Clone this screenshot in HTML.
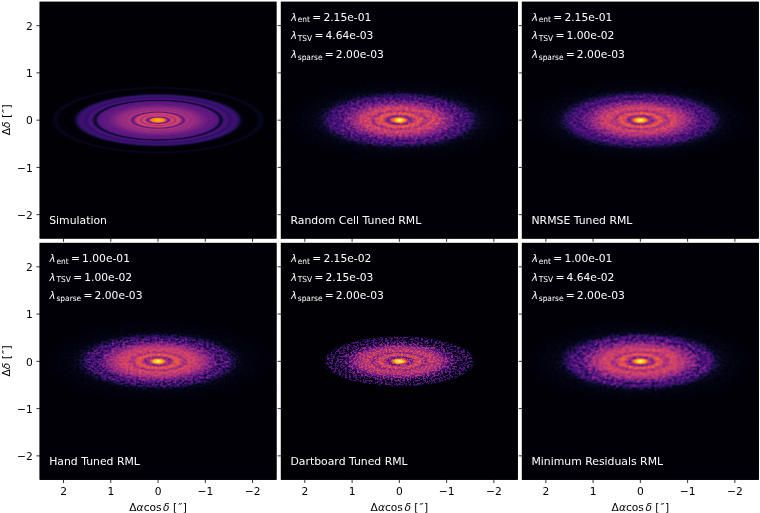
<!DOCTYPE html>
<html lang="en"><head><meta charset="utf-8"><title>RML image comparison</title>
<style>
html,body{margin:0;padding:0;background:#fff;}
body{width:760px;height:513px;overflow:hidden;}
svg{display:block;}
text{font-family:"DejaVu Sans", "Liberation Sans", sans-serif;font-size:10.7px;}
.tk{fill:#000;}
.w{fill:#fff;}
.it{font-style:italic;}
.tt{font-size:10.85px;}
.lam{font-size:10.06px;}
.sub{font-size:7.49px;}
</style></head>
<body>
<svg width="760" height="513" viewBox="0 0 760 513">
<defs><radialGradient id="gsim" gradientUnits="userSpaceOnUse" cx="0" cy="0" r="120.0" gradientTransform="scale(1 0.314)"><stop offset="0.0000" stop-color="#d6d6d6"/><stop offset="0.0167" stop-color="#d1d1d1"/><stop offset="0.0375" stop-color="#c7c7c7"/><stop offset="0.0583" stop-color="#b2b2b2"/><stop offset="0.0708" stop-color="#808080"/><stop offset="0.0858" stop-color="#454545"/><stop offset="0.1000" stop-color="#737373"/><stop offset="0.1192" stop-color="#999999"/><stop offset="0.1333" stop-color="#858585"/><stop offset="0.1433" stop-color="#707070"/><stop offset="0.1558" stop-color="#8a8a8a"/><stop offset="0.1667" stop-color="#959595"/><stop offset="0.1833" stop-color="#8a8a8a"/><stop offset="0.2000" stop-color="#616161"/><stop offset="0.2125" stop-color="#474747"/><stop offset="0.2292" stop-color="#666666"/><stop offset="0.2450" stop-color="#7e7e7e"/><stop offset="0.2583" stop-color="#707070"/><stop offset="0.2700" stop-color="#696969"/><stop offset="0.2917" stop-color="#717171"/><stop offset="0.3083" stop-color="#696969"/><stop offset="0.3208" stop-color="#6c6c6c"/><stop offset="0.3333" stop-color="#636363"/><stop offset="0.3500" stop-color="#616161"/><stop offset="0.3667" stop-color="#585858"/><stop offset="0.3833" stop-color="#575757"/><stop offset="0.4000" stop-color="#505050"/><stop offset="0.4167" stop-color="#4f4f4f"/><stop offset="0.4267" stop-color="#464646"/><stop offset="0.4375" stop-color="#4c4c4c"/><stop offset="0.4500" stop-color="#4b4b4b"/><stop offset="0.4667" stop-color="#474747"/><stop offset="0.4833" stop-color="#464646"/><stop offset="0.5025" stop-color="#414141"/><stop offset="0.5125" stop-color="#1f1f1f"/><stop offset="0.5250" stop-color="#141414"/><stop offset="0.5392" stop-color="#1c1c1c"/><stop offset="0.5500" stop-color="#373737"/><stop offset="0.5667" stop-color="#3d3d3d"/><stop offset="0.5833" stop-color="#363636"/><stop offset="0.5958" stop-color="#2e2e2e"/><stop offset="0.6083" stop-color="#2b2b2b"/><stop offset="0.6250" stop-color="#343434"/><stop offset="0.6417" stop-color="#363636"/><stop offset="0.6625" stop-color="#2f2f2f"/><stop offset="0.6833" stop-color="#1a1a1a"/><stop offset="0.7083" stop-color="#060606"/><stop offset="0.7500" stop-color="#030303"/><stop offset="0.8167" stop-color="#020202"/><stop offset="0.8375" stop-color="#090909"/><stop offset="0.8583" stop-color="#0f0f0f"/><stop offset="0.8792" stop-color="#080808"/><stop offset="0.9000" stop-color="#010101"/><stop offset="1.0000" stop-color="#010101"/></radialGradient><radialGradient id="gcore" gradientUnits="userSpaceOnUse" cx="0" cy="0" r="8.3" gradientTransform="scale(1 0.43)"><stop offset="0" stop-color="#f8f8f8"/><stop offset="0.3" stop-color="#e8e8e8" stop-opacity="0.95"/><stop offset="0.6" stop-color="#cfcfcf" stop-opacity="0.8"/><stop offset="0.8" stop-color="#b0b0b0" stop-opacity="0.4"/><stop offset="1" stop-color="#a0a0a0" stop-opacity="0"/></radialGradient><radialGradient id="gp1" gradientUnits="userSpaceOnUse" cx="0" cy="0" r="120.0" gradientTransform="scale(1 0.345)"><stop offset="0.0000" stop-color="#f7f7f7"/><stop offset="0.0125" stop-color="#f2f2f2"/><stop offset="0.0250" stop-color="#e6e6e6"/><stop offset="0.0417" stop-color="#cccccc"/><stop offset="0.0542" stop-color="#adadad"/><stop offset="0.0642" stop-color="#8f8f8f"/><stop offset="0.0750" stop-color="#757575"/><stop offset="0.0875" stop-color="#666666"/><stop offset="0.1017" stop-color="#5e5e5e"/><stop offset="0.1167" stop-color="#737373"/><stop offset="0.1333" stop-color="#8f8f8f"/><stop offset="0.1500" stop-color="#9d9d9d"/><stop offset="0.1667" stop-color="#9f9f9f"/><stop offset="0.1833" stop-color="#949494"/><stop offset="0.2000" stop-color="#808080"/><stop offset="0.2167" stop-color="#757575"/><stop offset="0.2333" stop-color="#7d7d7d"/><stop offset="0.2500" stop-color="#8b8b8b"/><stop offset="0.2733" stop-color="#909090"/><stop offset="0.2967" stop-color="#8c8c8c"/><stop offset="0.3247" stop-color="#858585"/><stop offset="0.3527" stop-color="#747474"/><stop offset="0.3807" stop-color="#6b6b6b"/><stop offset="0.4087" stop-color="#5f5f5f"/><stop offset="0.4367" stop-color="#535353"/><stop offset="0.4647" stop-color="#4b4b4b"/><stop offset="0.5000" stop-color="#3b3b3b"/><stop offset="0.5167" stop-color="#393939"/><stop offset="0.5333" stop-color="#393939"/><stop offset="0.5542" stop-color="#373737"/><stop offset="0.5708" stop-color="#353535"/><stop offset="0.5958" stop-color="#2e2e2e"/><stop offset="0.6208" stop-color="#212121"/><stop offset="0.6458" stop-color="#151515"/><stop offset="0.6792" stop-color="#0e0e0e"/><stop offset="0.7375" stop-color="#080808"/><stop offset="0.8750" stop-color="#040404"/><stop offset="1.0000" stop-color="#020202"/></radialGradient><radialGradient id="gp2" gradientUnits="userSpaceOnUse" cx="0" cy="0" r="120.0" gradientTransform="scale(1 0.35)"><stop offset="0.0000" stop-color="#f7f7f7"/><stop offset="0.0125" stop-color="#f2f2f2"/><stop offset="0.0250" stop-color="#e6e6e6"/><stop offset="0.0417" stop-color="#cccccc"/><stop offset="0.0542" stop-color="#adadad"/><stop offset="0.0642" stop-color="#8f8f8f"/><stop offset="0.0750" stop-color="#757575"/><stop offset="0.0875" stop-color="#666666"/><stop offset="0.1017" stop-color="#5e5e5e"/><stop offset="0.1167" stop-color="#737373"/><stop offset="0.1333" stop-color="#8f8f8f"/><stop offset="0.1500" stop-color="#9d9d9d"/><stop offset="0.1667" stop-color="#9f9f9f"/><stop offset="0.1833" stop-color="#949494"/><stop offset="0.2000" stop-color="#808080"/><stop offset="0.2167" stop-color="#757575"/><stop offset="0.2333" stop-color="#7d7d7d"/><stop offset="0.2500" stop-color="#8b8b8b"/><stop offset="0.2735" stop-color="#909090"/><stop offset="0.2971" stop-color="#8c8c8c"/><stop offset="0.3253" stop-color="#858585"/><stop offset="0.3536" stop-color="#787878"/><stop offset="0.3818" stop-color="#6e6e6e"/><stop offset="0.4101" stop-color="#626262"/><stop offset="0.4383" stop-color="#565656"/><stop offset="0.4666" stop-color="#4d4d4d"/><stop offset="0.5000" stop-color="#3d3d3d"/><stop offset="0.5167" stop-color="#383838"/><stop offset="0.5333" stop-color="#3a3a3a"/><stop offset="0.5542" stop-color="#3a3a3a"/><stop offset="0.5750" stop-color="#383838"/><stop offset="0.6000" stop-color="#313131"/><stop offset="0.6250" stop-color="#222222"/><stop offset="0.6500" stop-color="#181818"/><stop offset="0.6833" stop-color="#0e0e0e"/><stop offset="0.7417" stop-color="#080808"/><stop offset="0.8750" stop-color="#040404"/><stop offset="1.0000" stop-color="#020202"/></radialGradient><radialGradient id="gp3" gradientUnits="userSpaceOnUse" cx="0" cy="0" r="120.0" gradientTransform="scale(1 0.345)"><stop offset="0.0000" stop-color="#f7f7f7"/><stop offset="0.0125" stop-color="#f2f2f2"/><stop offset="0.0250" stop-color="#e6e6e6"/><stop offset="0.0417" stop-color="#cccccc"/><stop offset="0.0542" stop-color="#adadad"/><stop offset="0.0642" stop-color="#8f8f8f"/><stop offset="0.0750" stop-color="#757575"/><stop offset="0.0875" stop-color="#666666"/><stop offset="0.1017" stop-color="#5e5e5e"/><stop offset="0.1167" stop-color="#737373"/><stop offset="0.1333" stop-color="#8f8f8f"/><stop offset="0.1500" stop-color="#9d9d9d"/><stop offset="0.1667" stop-color="#9f9f9f"/><stop offset="0.1833" stop-color="#949494"/><stop offset="0.2000" stop-color="#808080"/><stop offset="0.2167" stop-color="#757575"/><stop offset="0.2333" stop-color="#7d7d7d"/><stop offset="0.2500" stop-color="#8b8b8b"/><stop offset="0.2733" stop-color="#909090"/><stop offset="0.2967" stop-color="#8c8c8c"/><stop offset="0.3247" stop-color="#858585"/><stop offset="0.3527" stop-color="#7d7d7d"/><stop offset="0.3807" stop-color="#737373"/><stop offset="0.4087" stop-color="#666666"/><stop offset="0.4367" stop-color="#595959"/><stop offset="0.4647" stop-color="#505050"/><stop offset="0.5000" stop-color="#3a3a3a"/><stop offset="0.5167" stop-color="#323232"/><stop offset="0.5333" stop-color="#373737"/><stop offset="0.5542" stop-color="#393939"/><stop offset="0.5667" stop-color="#373737"/><stop offset="0.5917" stop-color="#303030"/><stop offset="0.6167" stop-color="#222222"/><stop offset="0.6417" stop-color="#161616"/><stop offset="0.6750" stop-color="#0d0d0d"/><stop offset="0.7333" stop-color="#070707"/><stop offset="0.8750" stop-color="#040404"/><stop offset="1.0000" stop-color="#020202"/></radialGradient><radialGradient id="gp4" gradientUnits="userSpaceOnUse" cx="0" cy="0" r="120.0" gradientTransform="scale(1 0.335)"><stop offset="0.0000" stop-color="#f7f7f7"/><stop offset="0.0125" stop-color="#f2f2f2"/><stop offset="0.0250" stop-color="#e6e6e6"/><stop offset="0.0417" stop-color="#cccccc"/><stop offset="0.0542" stop-color="#adadad"/><stop offset="0.0642" stop-color="#8f8f8f"/><stop offset="0.0750" stop-color="#757575"/><stop offset="0.0875" stop-color="#666666"/><stop offset="0.1017" stop-color="#5a5a5a"/><stop offset="0.1167" stop-color="#6d6d6d"/><stop offset="0.1333" stop-color="#888888"/><stop offset="0.1500" stop-color="#959595"/><stop offset="0.1667" stop-color="#979797"/><stop offset="0.1833" stop-color="#8d8d8d"/><stop offset="0.2000" stop-color="#797979"/><stop offset="0.2167" stop-color="#6f6f6f"/><stop offset="0.2333" stop-color="#777777"/><stop offset="0.2500" stop-color="#848484"/><stop offset="0.2708" stop-color="#898989"/><stop offset="0.2917" stop-color="#858585"/><stop offset="0.3167" stop-color="#7e7e7e"/><stop offset="0.3417" stop-color="#777777"/><stop offset="0.3667" stop-color="#6d6d6d"/><stop offset="0.3917" stop-color="#616161"/><stop offset="0.4167" stop-color="#4f4f4f"/><stop offset="0.4500" stop-color="#404040"/><stop offset="0.4833" stop-color="#333333"/><stop offset="0.5083" stop-color="#262626"/><stop offset="0.5250" stop-color="#242424"/><stop offset="0.5500" stop-color="#292929"/><stop offset="0.5833" stop-color="#282828"/><stop offset="0.6042" stop-color="#242424"/><stop offset="0.6208" stop-color="#0f0f0f"/><stop offset="0.6375" stop-color="#030303"/><stop offset="0.6667" stop-color="#000000"/><stop offset="1.0000" stop-color="#000000"/></radialGradient><radialGradient id="gp5" gradientUnits="userSpaceOnUse" cx="0" cy="0" r="120.0" gradientTransform="scale(1 0.355)"><stop offset="0.0000" stop-color="#f7f7f7"/><stop offset="0.0125" stop-color="#f2f2f2"/><stop offset="0.0250" stop-color="#e6e6e6"/><stop offset="0.0417" stop-color="#cccccc"/><stop offset="0.0542" stop-color="#adadad"/><stop offset="0.0642" stop-color="#8f8f8f"/><stop offset="0.0750" stop-color="#757575"/><stop offset="0.0875" stop-color="#666666"/><stop offset="0.1017" stop-color="#5e5e5e"/><stop offset="0.1167" stop-color="#737373"/><stop offset="0.1333" stop-color="#8f8f8f"/><stop offset="0.1500" stop-color="#9d9d9d"/><stop offset="0.1667" stop-color="#9f9f9f"/><stop offset="0.1833" stop-color="#949494"/><stop offset="0.2000" stop-color="#808080"/><stop offset="0.2167" stop-color="#757575"/><stop offset="0.2333" stop-color="#7d7d7d"/><stop offset="0.2500" stop-color="#8b8b8b"/><stop offset="0.2740" stop-color="#909090"/><stop offset="0.2979" stop-color="#8c8c8c"/><stop offset="0.3267" stop-color="#858585"/><stop offset="0.3554" stop-color="#7d7d7d"/><stop offset="0.3842" stop-color="#737373"/><stop offset="0.4129" stop-color="#666666"/><stop offset="0.4417" stop-color="#595959"/><stop offset="0.4704" stop-color="#505050"/><stop offset="0.5000" stop-color="#404040"/><stop offset="0.5167" stop-color="#393939"/><stop offset="0.5333" stop-color="#3d3d3d"/><stop offset="0.5542" stop-color="#3e3e3e"/><stop offset="0.5667" stop-color="#3c3c3c"/><stop offset="0.5917" stop-color="#343434"/><stop offset="0.6167" stop-color="#252525"/><stop offset="0.6417" stop-color="#181818"/><stop offset="0.6750" stop-color="#0e0e0e"/><stop offset="0.7333" stop-color="#080808"/><stop offset="0.8750" stop-color="#040404"/><stop offset="1.0000" stop-color="#020202"/></radialGradient><filter id="n0" x="0" y="0" width="100%" height="100%" color-interpolation-filters="sRGB"><feComponentTransfer><feFuncR type="table" tableValues="0.001 0.008 0.019 0.036 0.057 0.079 0.103 0.129 0.159 0.191 0.225 0.259 0.291 0.323 0.354 0.384 0.415 0.445 0.476 0.507 0.538 0.569 0.601 0.633 0.665 0.697 0.730 0.762 0.794 0.824 0.852 0.877 0.899 0.918 0.933 0.947 0.958 0.968 0.976 0.982 0.986 0.988 0.987 0.985 0.980 0.973 0.964 0.955 0.948 0.948 0.962 0.988"/><feFuncG type="table" tableValues="0.000 0.006 0.016 0.028 0.042 0.054 0.063 0.068 0.068 0.065 0.060 0.060 0.065 0.074 0.085 0.098 0.110 0.123 0.135 0.146 0.157 0.167 0.178 0.188 0.198 0.208 0.220 0.232 0.246 0.264 0.285 0.310 0.338 0.369 0.403 0.437 0.473 0.508 0.544 0.579 0.616 0.653 0.690 0.728 0.767 0.805 0.844 0.882 0.917 0.949 0.976 0.998"/><feFuncB type="table" tableValues="0.014 0.045 0.085 0.125 0.167 0.212 0.258 0.305 0.353 0.396 0.432 0.458 0.475 0.487 0.496 0.501 0.505 0.507 0.508 0.508 0.507 0.504 0.500 0.495 0.489 0.480 0.467 0.447 0.422 0.393 0.359 0.322 0.283 0.243 0.202 0.161 0.121 0.081 0.046 0.026 0.026 0.046 0.080 0.121 0.166 0.217 0.273 0.337 0.411 0.491 0.572 0.645"/></feComponentTransfer></filter><filter id="n1" x="0" y="0" width="100%" height="100%" color-interpolation-filters="sRGB"><feComponentTransfer in="SourceGraphic" result="amp"><feFuncR type="table" tableValues="0.000 0.037 0.075 0.115 0.157 0.197 0.231 0.266 0.300 0.314 0.329 0.338 0.329 0.319 0.310 0.300 0.290 0.280 0.270 0.262 0.253 0.245 0.237 0.228 0.220 0.205 0.190 0.175 0.160 0.145 0.130 0.118 0.107 0.095 0.083 0.072 0.060 0.052 0.045 0.037 0.030"/><feFuncG type="table" tableValues="0.000 0.037 0.075 0.115 0.157 0.197 0.231 0.266 0.300 0.314 0.329 0.338 0.329 0.319 0.310 0.300 0.290 0.280 0.270 0.262 0.253 0.245 0.237 0.228 0.220 0.205 0.190 0.175 0.160 0.145 0.130 0.118 0.107 0.095 0.083 0.072 0.060 0.052 0.045 0.037 0.030"/><feFuncB type="table" tableValues="0.000 0.037 0.075 0.115 0.157 0.197 0.231 0.266 0.300 0.314 0.329 0.338 0.329 0.319 0.310 0.300 0.290 0.280 0.270 0.262 0.253 0.245 0.237 0.228 0.220 0.205 0.190 0.175 0.160 0.145 0.130 0.118 0.107 0.095 0.083 0.072 0.060 0.052 0.045 0.037 0.030"/></feComponentTransfer><feTurbulence type="fractalNoise" baseFrequency="0.33 0.41" numOctaves="2" seed="3" result="n"/><feColorMatrix in="n" type="matrix" values="1 0 0 0 0  1 0 0 0 0  1 0 0 0 0  0 0 0 0 1" result="g0"/><feGaussianBlur in="g0" stdDeviation="0.5" result="g"/><feComposite in="amp" in2="g" operator="arithmetic" k1="1.35" k2="-0.675" k3="0" k4="0.5" result="t"/><feComposite in="SourceGraphic" in2="t" operator="arithmetic" k1="0" k2="1" k3="1" k4="-0.5"/><feComponentTransfer><feFuncR type="table" tableValues="0.001 0.008 0.019 0.036 0.057 0.079 0.103 0.129 0.159 0.191 0.225 0.259 0.291 0.323 0.354 0.384 0.415 0.445 0.476 0.507 0.538 0.569 0.601 0.633 0.665 0.697 0.730 0.762 0.794 0.824 0.852 0.877 0.899 0.918 0.933 0.947 0.958 0.968 0.976 0.982 0.986 0.988 0.987 0.985 0.980 0.973 0.964 0.955 0.948 0.948 0.962 0.988"/><feFuncG type="table" tableValues="0.000 0.006 0.016 0.028 0.042 0.054 0.063 0.068 0.068 0.065 0.060 0.060 0.065 0.074 0.085 0.098 0.110 0.123 0.135 0.146 0.157 0.167 0.178 0.188 0.198 0.208 0.220 0.232 0.246 0.264 0.285 0.310 0.338 0.369 0.403 0.437 0.473 0.508 0.544 0.579 0.616 0.653 0.690 0.728 0.767 0.805 0.844 0.882 0.917 0.949 0.976 0.998"/><feFuncB type="table" tableValues="0.014 0.045 0.085 0.125 0.167 0.212 0.258 0.305 0.353 0.396 0.432 0.458 0.475 0.487 0.496 0.501 0.505 0.507 0.508 0.508 0.507 0.504 0.500 0.495 0.489 0.480 0.467 0.447 0.422 0.393 0.359 0.322 0.283 0.243 0.202 0.161 0.121 0.081 0.046 0.026 0.026 0.046 0.080 0.121 0.166 0.217 0.273 0.337 0.411 0.491 0.572 0.645"/></feComponentTransfer></filter><filter id="n2" x="0" y="0" width="100%" height="100%" color-interpolation-filters="sRGB"><feComponentTransfer in="SourceGraphic" result="amp"><feFuncR type="table" tableValues="0.000 0.037 0.075 0.115 0.157 0.197 0.231 0.266 0.300 0.314 0.329 0.338 0.329 0.319 0.310 0.300 0.290 0.280 0.270 0.262 0.253 0.245 0.237 0.228 0.220 0.205 0.190 0.175 0.160 0.145 0.130 0.118 0.107 0.095 0.083 0.072 0.060 0.052 0.045 0.037 0.030"/><feFuncG type="table" tableValues="0.000 0.037 0.075 0.115 0.157 0.197 0.231 0.266 0.300 0.314 0.329 0.338 0.329 0.319 0.310 0.300 0.290 0.280 0.270 0.262 0.253 0.245 0.237 0.228 0.220 0.205 0.190 0.175 0.160 0.145 0.130 0.118 0.107 0.095 0.083 0.072 0.060 0.052 0.045 0.037 0.030"/><feFuncB type="table" tableValues="0.000 0.037 0.075 0.115 0.157 0.197 0.231 0.266 0.300 0.314 0.329 0.338 0.329 0.319 0.310 0.300 0.290 0.280 0.270 0.262 0.253 0.245 0.237 0.228 0.220 0.205 0.190 0.175 0.160 0.145 0.130 0.118 0.107 0.095 0.083 0.072 0.060 0.052 0.045 0.037 0.030"/></feComponentTransfer><feTurbulence type="fractalNoise" baseFrequency="0.33 0.41" numOctaves="2" seed="7" result="n"/><feColorMatrix in="n" type="matrix" values="1 0 0 0 0  1 0 0 0 0  1 0 0 0 0  0 0 0 0 1" result="g0"/><feGaussianBlur in="g0" stdDeviation="0.5" result="g"/><feComposite in="amp" in2="g" operator="arithmetic" k1="1.15" k2="-0.575" k3="0" k4="0.5" result="t"/><feComposite in="SourceGraphic" in2="t" operator="arithmetic" k1="0" k2="1" k3="1" k4="-0.5"/><feComponentTransfer><feFuncR type="table" tableValues="0.001 0.008 0.019 0.036 0.057 0.079 0.103 0.129 0.159 0.191 0.225 0.259 0.291 0.323 0.354 0.384 0.415 0.445 0.476 0.507 0.538 0.569 0.601 0.633 0.665 0.697 0.730 0.762 0.794 0.824 0.852 0.877 0.899 0.918 0.933 0.947 0.958 0.968 0.976 0.982 0.986 0.988 0.987 0.985 0.980 0.973 0.964 0.955 0.948 0.948 0.962 0.988"/><feFuncG type="table" tableValues="0.000 0.006 0.016 0.028 0.042 0.054 0.063 0.068 0.068 0.065 0.060 0.060 0.065 0.074 0.085 0.098 0.110 0.123 0.135 0.146 0.157 0.167 0.178 0.188 0.198 0.208 0.220 0.232 0.246 0.264 0.285 0.310 0.338 0.369 0.403 0.437 0.473 0.508 0.544 0.579 0.616 0.653 0.690 0.728 0.767 0.805 0.844 0.882 0.917 0.949 0.976 0.998"/><feFuncB type="table" tableValues="0.014 0.045 0.085 0.125 0.167 0.212 0.258 0.305 0.353 0.396 0.432 0.458 0.475 0.487 0.496 0.501 0.505 0.507 0.508 0.508 0.507 0.504 0.500 0.495 0.489 0.480 0.467 0.447 0.422 0.393 0.359 0.322 0.283 0.243 0.202 0.161 0.121 0.081 0.046 0.026 0.026 0.046 0.080 0.121 0.166 0.217 0.273 0.337 0.411 0.491 0.572 0.645"/></feComponentTransfer></filter><filter id="n3" x="0" y="0" width="100%" height="100%" color-interpolation-filters="sRGB"><feComponentTransfer in="SourceGraphic" result="amp"><feFuncR type="table" tableValues="0.000 0.043 0.105 0.173 0.243 0.310 0.360 0.410 0.460 0.453 0.446 0.432 0.395 0.357 0.320 0.295 0.270 0.245 0.220 0.212 0.203 0.195 0.187 0.178 0.170 0.158 0.147 0.135 0.123 0.112 0.100 0.092 0.083 0.075 0.067 0.058 0.050 0.045 0.040 0.035 0.030"/><feFuncG type="table" tableValues="0.000 0.043 0.105 0.173 0.243 0.310 0.360 0.410 0.460 0.453 0.446 0.432 0.395 0.357 0.320 0.295 0.270 0.245 0.220 0.212 0.203 0.195 0.187 0.178 0.170 0.158 0.147 0.135 0.123 0.112 0.100 0.092 0.083 0.075 0.067 0.058 0.050 0.045 0.040 0.035 0.030"/><feFuncB type="table" tableValues="0.000 0.043 0.105 0.173 0.243 0.310 0.360 0.410 0.460 0.453 0.446 0.432 0.395 0.357 0.320 0.295 0.270 0.245 0.220 0.212 0.203 0.195 0.187 0.178 0.170 0.158 0.147 0.135 0.123 0.112 0.100 0.092 0.083 0.075 0.067 0.058 0.050 0.045 0.040 0.035 0.030"/></feComponentTransfer><feTurbulence type="fractalNoise" baseFrequency="0.37 0.45" numOctaves="2" seed="11" result="n"/><feColorMatrix in="n" type="matrix" values="1 0 0 0 0  1 0 0 0 0  1 0 0 0 0  0 0 0 0 1" result="g0"/><feGaussianBlur in="g0" stdDeviation="0.4" result="g"/><feComposite in="amp" in2="g" operator="arithmetic" k1="1.35" k2="-0.675" k3="0" k4="0.5" result="t"/><feComposite in="SourceGraphic" in2="t" operator="arithmetic" k1="0" k2="1" k3="1" k4="-0.5"/><feComponentTransfer><feFuncR type="table" tableValues="0.001 0.008 0.019 0.036 0.057 0.079 0.103 0.129 0.159 0.191 0.225 0.259 0.291 0.323 0.354 0.384 0.415 0.445 0.476 0.507 0.538 0.569 0.601 0.633 0.665 0.697 0.730 0.762 0.794 0.824 0.852 0.877 0.899 0.918 0.933 0.947 0.958 0.968 0.976 0.982 0.986 0.988 0.987 0.985 0.980 0.973 0.964 0.955 0.948 0.948 0.962 0.988"/><feFuncG type="table" tableValues="0.000 0.006 0.016 0.028 0.042 0.054 0.063 0.068 0.068 0.065 0.060 0.060 0.065 0.074 0.085 0.098 0.110 0.123 0.135 0.146 0.157 0.167 0.178 0.188 0.198 0.208 0.220 0.232 0.246 0.264 0.285 0.310 0.338 0.369 0.403 0.437 0.473 0.508 0.544 0.579 0.616 0.653 0.690 0.728 0.767 0.805 0.844 0.882 0.917 0.949 0.976 0.998"/><feFuncB type="table" tableValues="0.014 0.045 0.085 0.125 0.167 0.212 0.258 0.305 0.353 0.396 0.432 0.458 0.475 0.487 0.496 0.501 0.505 0.507 0.508 0.508 0.507 0.504 0.500 0.495 0.489 0.480 0.467 0.447 0.422 0.393 0.359 0.322 0.283 0.243 0.202 0.161 0.121 0.081 0.046 0.026 0.026 0.046 0.080 0.121 0.166 0.217 0.273 0.337 0.411 0.491 0.572 0.645"/></feComponentTransfer></filter><filter id="n4" x="0" y="0" width="100%" height="100%" color-interpolation-filters="sRGB"><feComponentTransfer in="SourceGraphic" result="amp"><feFuncR type="table" tableValues="0.000 0.050 0.100 0.145 0.190 0.230 0.270 0.285 0.300 0.310 0.320 0.312 0.303 0.290 0.273 0.257 0.240 0.223 0.203 0.181 0.160 0.152 0.145 0.137 0.130 0.122 0.113 0.105 0.097 0.088 0.080 0.073 0.067 0.060 0.053 0.047 0.040 0.035 0.030 0.025 0.020"/><feFuncG type="table" tableValues="0.000 0.050 0.100 0.145 0.190 0.230 0.270 0.285 0.300 0.310 0.320 0.312 0.303 0.290 0.273 0.257 0.240 0.223 0.203 0.181 0.160 0.152 0.145 0.137 0.130 0.122 0.113 0.105 0.097 0.088 0.080 0.073 0.067 0.060 0.053 0.047 0.040 0.035 0.030 0.025 0.020"/><feFuncB type="table" tableValues="0.000 0.050 0.100 0.145 0.190 0.230 0.270 0.285 0.300 0.310 0.320 0.312 0.303 0.290 0.273 0.257 0.240 0.223 0.203 0.181 0.160 0.152 0.145 0.137 0.130 0.122 0.113 0.105 0.097 0.088 0.080 0.073 0.067 0.060 0.053 0.047 0.040 0.035 0.030 0.025 0.020"/></feComponentTransfer><feTurbulence type="fractalNoise" baseFrequency="0.5 0.58" numOctaves="2" seed="5" result="n"/><feColorMatrix in="n" type="matrix" values="1 0 0 0 0  1 0 0 0 0  1 0 0 0 0  0 0 0 0 1" result="g0"/><feComponentTransfer in="g0" result="g1"><feFuncR type="linear" slope="6" intercept="-2.7"/><feFuncG type="linear" slope="6" intercept="-2.7"/><feFuncB type="linear" slope="6" intercept="-2.7"/></feComponentTransfer><feGaussianBlur in="g1" stdDeviation="0.3" result="g"/><feComposite in="amp" in2="g" operator="arithmetic" k1="1.0" k2="-0.5" k3="0" k4="0.5" result="t"/><feComposite in="SourceGraphic" in2="t" operator="arithmetic" k1="0" k2="1" k3="1" k4="-0.5"/><feComponentTransfer><feFuncR type="table" tableValues="0.001 0.008 0.019 0.036 0.057 0.079 0.103 0.129 0.159 0.191 0.225 0.259 0.291 0.323 0.354 0.384 0.415 0.445 0.476 0.507 0.538 0.569 0.601 0.633 0.665 0.697 0.730 0.762 0.794 0.824 0.852 0.877 0.899 0.918 0.933 0.947 0.958 0.968 0.976 0.982 0.986 0.988 0.987 0.985 0.980 0.973 0.964 0.955 0.948 0.948 0.962 0.988"/><feFuncG type="table" tableValues="0.000 0.006 0.016 0.028 0.042 0.054 0.063 0.068 0.068 0.065 0.060 0.060 0.065 0.074 0.085 0.098 0.110 0.123 0.135 0.146 0.157 0.167 0.178 0.188 0.198 0.208 0.220 0.232 0.246 0.264 0.285 0.310 0.338 0.369 0.403 0.437 0.473 0.508 0.544 0.579 0.616 0.653 0.690 0.728 0.767 0.805 0.844 0.882 0.917 0.949 0.976 0.998"/><feFuncB type="table" tableValues="0.014 0.045 0.085 0.125 0.167 0.212 0.258 0.305 0.353 0.396 0.432 0.458 0.475 0.487 0.496 0.501 0.505 0.507 0.508 0.508 0.507 0.504 0.500 0.495 0.489 0.480 0.467 0.447 0.422 0.393 0.359 0.322 0.283 0.243 0.202 0.161 0.121 0.081 0.046 0.026 0.026 0.046 0.080 0.121 0.166 0.217 0.273 0.337 0.411 0.491 0.572 0.645"/></feComponentTransfer></filter><filter id="n5" x="0" y="0" width="100%" height="100%" color-interpolation-filters="sRGB"><feComponentTransfer in="SourceGraphic" result="amp"><feFuncR type="table" tableValues="0.000 0.039 0.083 0.130 0.180 0.227 0.262 0.296 0.331 0.365 0.400 0.390 0.380 0.370 0.360 0.325 0.290 0.255 0.220 0.210 0.200 0.190 0.180 0.170 0.160 0.150 0.140 0.130 0.120 0.110 0.100 0.092 0.083 0.075 0.067 0.058 0.050 0.045 0.040 0.035 0.030"/><feFuncG type="table" tableValues="0.000 0.039 0.083 0.130 0.180 0.227 0.262 0.296 0.331 0.365 0.400 0.390 0.380 0.370 0.360 0.325 0.290 0.255 0.220 0.210 0.200 0.190 0.180 0.170 0.160 0.150 0.140 0.130 0.120 0.110 0.100 0.092 0.083 0.075 0.067 0.058 0.050 0.045 0.040 0.035 0.030"/><feFuncB type="table" tableValues="0.000 0.039 0.083 0.130 0.180 0.227 0.262 0.296 0.331 0.365 0.400 0.390 0.380 0.370 0.360 0.325 0.290 0.255 0.220 0.210 0.200 0.190 0.180 0.170 0.160 0.150 0.140 0.130 0.120 0.110 0.100 0.092 0.083 0.075 0.067 0.058 0.050 0.045 0.040 0.035 0.030"/></feComponentTransfer><feTurbulence type="fractalNoise" baseFrequency="0.27 0.33" numOctaves="2" seed="19" result="n"/><feColorMatrix in="n" type="matrix" values="1 0 0 0 0  1 0 0 0 0  1 0 0 0 0  0 0 0 0 1" result="g0"/><feGaussianBlur in="g0" stdDeviation="0.6" result="g"/><feComposite in="amp" in2="g" operator="arithmetic" k1="1.4" k2="-0.7" k3="0" k4="0.5" result="t"/><feComposite in="SourceGraphic" in2="t" operator="arithmetic" k1="0" k2="1" k3="1" k4="-0.5"/><feComponentTransfer><feFuncR type="table" tableValues="0.001 0.008 0.019 0.036 0.057 0.079 0.103 0.129 0.159 0.191 0.225 0.259 0.291 0.323 0.354 0.384 0.415 0.445 0.476 0.507 0.538 0.569 0.601 0.633 0.665 0.697 0.730 0.762 0.794 0.824 0.852 0.877 0.899 0.918 0.933 0.947 0.958 0.968 0.976 0.982 0.986 0.988 0.987 0.985 0.980 0.973 0.964 0.955 0.948 0.948 0.962 0.988"/><feFuncG type="table" tableValues="0.000 0.006 0.016 0.028 0.042 0.054 0.063 0.068 0.068 0.065 0.060 0.060 0.065 0.074 0.085 0.098 0.110 0.123 0.135 0.146 0.157 0.167 0.178 0.188 0.198 0.208 0.220 0.232 0.246 0.264 0.285 0.310 0.338 0.369 0.403 0.437 0.473 0.508 0.544 0.579 0.616 0.653 0.690 0.728 0.767 0.805 0.844 0.882 0.917 0.949 0.976 0.998"/><feFuncB type="table" tableValues="0.014 0.045 0.085 0.125 0.167 0.212 0.258 0.305 0.353 0.396 0.432 0.458 0.475 0.487 0.496 0.501 0.505 0.507 0.508 0.508 0.507 0.504 0.500 0.495 0.489 0.480 0.467 0.447 0.422 0.393 0.359 0.322 0.283 0.243 0.202 0.161 0.121 0.081 0.046 0.026 0.026 0.046 0.080 0.121 0.166 0.217 0.273 0.337 0.411 0.491 0.572 0.645"/></feComponentTransfer></filter></defs>
<rect x="0" y="0" width="760" height="513" fill="#ffffff"/>
<g transform="translate(158.05 120.15)">
<g filter="url(#n0)"><rect x="-118.15" y="-118.15" width="236.3" height="236.3" fill="url(#gsim)"/></g>
<rect x="-118.15" y="-118.15" width="236.3" height="236.3" fill="none" stroke="#000" stroke-width="0.8"/>
<line x1="94.52" y1="118.15" x2="94.52" y2="121.65" stroke="#000" stroke-width="0.8"/>
<line x1="-121.65" y1="94.52" x2="-118.15" y2="94.52" stroke="#000" stroke-width="0.8"/>
<text transform="translate(-125.15 98.82) scale(1 1.03)" text-anchor="end" class="tk">−2</text>
<line x1="47.26" y1="118.15" x2="47.26" y2="121.65" stroke="#000" stroke-width="0.8"/>
<line x1="-121.65" y1="47.26" x2="-118.15" y2="47.26" stroke="#000" stroke-width="0.8"/>
<text transform="translate(-125.15 51.56) scale(1 1.03)" text-anchor="end" class="tk">−1</text>
<line x1="0.00" y1="118.15" x2="0.00" y2="121.65" stroke="#000" stroke-width="0.8"/>
<line x1="-121.65" y1="0.00" x2="-118.15" y2="0.00" stroke="#000" stroke-width="0.8"/>
<text transform="translate(-125.15 4.30) scale(1 1.03)" text-anchor="end" class="tk">0</text>
<line x1="-47.26" y1="118.15" x2="-47.26" y2="121.65" stroke="#000" stroke-width="0.8"/>
<line x1="-121.65" y1="-47.26" x2="-118.15" y2="-47.26" stroke="#000" stroke-width="0.8"/>
<text transform="translate(-125.15 -42.96) scale(1 1.03)" text-anchor="end" class="tk">1</text>
<line x1="-94.52" y1="118.15" x2="-94.52" y2="121.65" stroke="#000" stroke-width="0.8"/>
<line x1="-121.65" y1="-94.52" x2="-118.15" y2="-94.52" stroke="#000" stroke-width="0.8"/>
<text transform="translate(-125.15 -90.22) scale(1 1.03)" text-anchor="end" class="tk">2</text>
<text transform="translate(-148.45 -0.4) rotate(-90) scale(1.0 0.97)" text-anchor="middle" class="tk">Δ<tspan class="it">δ</tspan> [<tspan class="it" dx="0.9">″</tspan><tspan dx="0.5">]</tspan></text>
<text transform="translate(-108.85 103.35) scale(1 1)" class="w tt">Simulation</text>
</g>
<g transform="translate(399.35 120.15)">
<g filter="url(#n1)"><rect x="-118.15" y="-118.15" width="236.3" height="236.3" fill="url(#gp1)"/><ellipse cx="0" cy="0" rx="8.3" ry="3.6" fill="url(#gcore)"/></g>
<rect x="-118.15" y="-118.15" width="236.3" height="236.3" fill="none" stroke="#000" stroke-width="0.8"/>
<line x1="94.52" y1="118.15" x2="94.52" y2="121.65" stroke="#000" stroke-width="0.8"/>
<line x1="-121.65" y1="94.52" x2="-118.15" y2="94.52" stroke="#000" stroke-width="0.8"/>
<line x1="47.26" y1="118.15" x2="47.26" y2="121.65" stroke="#000" stroke-width="0.8"/>
<line x1="-121.65" y1="47.26" x2="-118.15" y2="47.26" stroke="#000" stroke-width="0.8"/>
<line x1="0.00" y1="118.15" x2="0.00" y2="121.65" stroke="#000" stroke-width="0.8"/>
<line x1="-121.65" y1="0.00" x2="-118.15" y2="0.00" stroke="#000" stroke-width="0.8"/>
<line x1="-47.26" y1="118.15" x2="-47.26" y2="121.65" stroke="#000" stroke-width="0.8"/>
<line x1="-121.65" y1="-47.26" x2="-118.15" y2="-47.26" stroke="#000" stroke-width="0.8"/>
<line x1="-94.52" y1="118.15" x2="-94.52" y2="121.65" stroke="#000" stroke-width="0.8"/>
<line x1="-121.65" y1="-94.52" x2="-118.15" y2="-94.52" stroke="#000" stroke-width="0.8"/>
<text transform="translate(-108.85 103.35) scale(1 1)" class="w tt">Random Cell Tuned RML</text>
<text transform="translate(-108.45 -99.45) scale(1 1.05)" class="w"><tspan class="it lam">λ</tspan><tspan class="sub" dy="1.6" dx="0.9">ent</tspan><tspan dy="-1.6" dx="2.3">=</tspan><tspan dx="2.1">2.15e-01</tspan></text>
<text transform="translate(-108.45 -80.75) scale(1 1.05)" class="w"><tspan class="it lam">λ</tspan><tspan class="sub" dy="1.6" dx="0.9">TSV</tspan><tspan dy="-1.6" dx="2.3">=</tspan><tspan dx="2.1">4.64e-03</tspan></text>
<text transform="translate(-108.45 -62.05) scale(1 1.05)" class="w"><tspan class="it lam">λ</tspan><tspan class="sub" dy="1.6" dx="0.9">sparse</tspan><tspan dy="-1.6" dx="2.3">=</tspan><tspan dx="2.1">2.00e-03</tspan></text>
</g>
<g transform="translate(640.35 120.15)">
<g filter="url(#n2)"><rect x="-118.15" y="-118.15" width="236.3" height="236.3" fill="url(#gp2)"/><ellipse cx="0" cy="0" rx="8.3" ry="3.6" fill="url(#gcore)"/></g>
<rect x="-118.15" y="-118.15" width="236.3" height="236.3" fill="none" stroke="#000" stroke-width="0.8"/>
<line x1="94.52" y1="118.15" x2="94.52" y2="121.65" stroke="#000" stroke-width="0.8"/>
<line x1="-121.65" y1="94.52" x2="-118.15" y2="94.52" stroke="#000" stroke-width="0.8"/>
<line x1="47.26" y1="118.15" x2="47.26" y2="121.65" stroke="#000" stroke-width="0.8"/>
<line x1="-121.65" y1="47.26" x2="-118.15" y2="47.26" stroke="#000" stroke-width="0.8"/>
<line x1="0.00" y1="118.15" x2="0.00" y2="121.65" stroke="#000" stroke-width="0.8"/>
<line x1="-121.65" y1="0.00" x2="-118.15" y2="0.00" stroke="#000" stroke-width="0.8"/>
<line x1="-47.26" y1="118.15" x2="-47.26" y2="121.65" stroke="#000" stroke-width="0.8"/>
<line x1="-121.65" y1="-47.26" x2="-118.15" y2="-47.26" stroke="#000" stroke-width="0.8"/>
<line x1="-94.52" y1="118.15" x2="-94.52" y2="121.65" stroke="#000" stroke-width="0.8"/>
<line x1="-121.65" y1="-94.52" x2="-118.15" y2="-94.52" stroke="#000" stroke-width="0.8"/>
<text transform="translate(-108.85 103.35) scale(1 1)" class="w tt">NRMSE Tuned RML</text>
<text transform="translate(-108.45 -99.45) scale(1 1.05)" class="w"><tspan class="it lam">λ</tspan><tspan class="sub" dy="1.6" dx="0.9">ent</tspan><tspan dy="-1.6" dx="2.3">=</tspan><tspan dx="2.1">2.15e-01</tspan></text>
<text transform="translate(-108.45 -80.75) scale(1 1.05)" class="w"><tspan class="it lam">λ</tspan><tspan class="sub" dy="1.6" dx="0.9">TSV</tspan><tspan dy="-1.6" dx="2.3">=</tspan><tspan dx="2.1">1.00e-02</tspan></text>
<text transform="translate(-108.45 -62.05) scale(1 1.05)" class="w"><tspan class="it lam">λ</tspan><tspan class="sub" dy="1.6" dx="0.9">sparse</tspan><tspan dy="-1.6" dx="2.3">=</tspan><tspan dx="2.1">2.00e-03</tspan></text>
</g>
<g transform="translate(158.05 361.35)">
<g filter="url(#n3)"><rect x="-118.15" y="-118.15" width="236.3" height="236.3" fill="url(#gp3)"/><ellipse cx="0" cy="0" rx="8.3" ry="3.6" fill="url(#gcore)"/></g>
<rect x="-118.15" y="-118.15" width="236.3" height="236.3" fill="none" stroke="#000" stroke-width="0.8"/>
<line x1="94.52" y1="118.15" x2="94.52" y2="121.65" stroke="#000" stroke-width="0.8"/>
<line x1="-121.65" y1="94.52" x2="-118.15" y2="94.52" stroke="#000" stroke-width="0.8"/>
<text transform="translate(94.52 133.85) scale(1 1.03)" text-anchor="middle" class="tk">−2</text>
<text transform="translate(-125.15 98.82) scale(1 1.03)" text-anchor="end" class="tk">−2</text>
<line x1="47.26" y1="118.15" x2="47.26" y2="121.65" stroke="#000" stroke-width="0.8"/>
<line x1="-121.65" y1="47.26" x2="-118.15" y2="47.26" stroke="#000" stroke-width="0.8"/>
<text transform="translate(47.26 133.85) scale(1 1.03)" text-anchor="middle" class="tk">−1</text>
<text transform="translate(-125.15 51.56) scale(1 1.03)" text-anchor="end" class="tk">−1</text>
<line x1="0.00" y1="118.15" x2="0.00" y2="121.65" stroke="#000" stroke-width="0.8"/>
<line x1="-121.65" y1="0.00" x2="-118.15" y2="0.00" stroke="#000" stroke-width="0.8"/>
<text transform="translate(0.00 133.85) scale(1 1.03)" text-anchor="middle" class="tk">0</text>
<text transform="translate(-125.15 4.30) scale(1 1.03)" text-anchor="end" class="tk">0</text>
<line x1="-47.26" y1="118.15" x2="-47.26" y2="121.65" stroke="#000" stroke-width="0.8"/>
<line x1="-121.65" y1="-47.26" x2="-118.15" y2="-47.26" stroke="#000" stroke-width="0.8"/>
<text transform="translate(-47.26 133.85) scale(1 1.03)" text-anchor="middle" class="tk">1</text>
<text transform="translate(-125.15 -42.96) scale(1 1.03)" text-anchor="end" class="tk">1</text>
<line x1="-94.52" y1="118.15" x2="-94.52" y2="121.65" stroke="#000" stroke-width="0.8"/>
<line x1="-121.65" y1="-94.52" x2="-118.15" y2="-94.52" stroke="#000" stroke-width="0.8"/>
<text transform="translate(-94.52 133.85) scale(1 1.03)" text-anchor="middle" class="tk">2</text>
<text transform="translate(-125.15 -90.22) scale(1 1.03)" text-anchor="end" class="tk">2</text>
<text transform="translate(0 149.75) scale(1 1)" text-anchor="middle" class="tk">Δ<tspan class="it">α</tspan>cos<tspan dx="1.5" class="it">δ</tspan> [<tspan class="it" dx="0.9">″</tspan><tspan dx="0.5">]</tspan></text>
<text transform="translate(-148.45 -0.4) rotate(-90) scale(1.0 0.97)" text-anchor="middle" class="tk">Δ<tspan class="it">δ</tspan> [<tspan class="it" dx="0.9">″</tspan><tspan dx="0.5">]</tspan></text>
<text transform="translate(-108.85 103.35) scale(1 1)" class="w tt">Hand Tuned RML</text>
<text transform="translate(-108.45 -99.45) scale(1 1.05)" class="w"><tspan class="it lam">λ</tspan><tspan class="sub" dy="1.6" dx="0.9">ent</tspan><tspan dy="-1.6" dx="2.3">=</tspan><tspan dx="2.1">1.00e-01</tspan></text>
<text transform="translate(-108.45 -80.75) scale(1 1.05)" class="w"><tspan class="it lam">λ</tspan><tspan class="sub" dy="1.6" dx="0.9">TSV</tspan><tspan dy="-1.6" dx="2.3">=</tspan><tspan dx="2.1">1.00e-02</tspan></text>
<text transform="translate(-108.45 -62.05) scale(1 1.05)" class="w"><tspan class="it lam">λ</tspan><tspan class="sub" dy="1.6" dx="0.9">sparse</tspan><tspan dy="-1.6" dx="2.3">=</tspan><tspan dx="2.1">2.00e-03</tspan></text>
</g>
<g transform="translate(399.35 361.35)">
<g filter="url(#n4)"><rect x="-118.15" y="-118.15" width="236.3" height="236.3" fill="url(#gp4)"/><ellipse cx="0" cy="0" rx="8.3" ry="3.6" fill="url(#gcore)"/></g>
<rect x="-118.15" y="-118.15" width="236.3" height="236.3" fill="none" stroke="#000" stroke-width="0.8"/>
<line x1="94.52" y1="118.15" x2="94.52" y2="121.65" stroke="#000" stroke-width="0.8"/>
<line x1="-121.65" y1="94.52" x2="-118.15" y2="94.52" stroke="#000" stroke-width="0.8"/>
<text transform="translate(94.52 133.85) scale(1 1.03)" text-anchor="middle" class="tk">−2</text>
<line x1="47.26" y1="118.15" x2="47.26" y2="121.65" stroke="#000" stroke-width="0.8"/>
<line x1="-121.65" y1="47.26" x2="-118.15" y2="47.26" stroke="#000" stroke-width="0.8"/>
<text transform="translate(47.26 133.85) scale(1 1.03)" text-anchor="middle" class="tk">−1</text>
<line x1="0.00" y1="118.15" x2="0.00" y2="121.65" stroke="#000" stroke-width="0.8"/>
<line x1="-121.65" y1="0.00" x2="-118.15" y2="0.00" stroke="#000" stroke-width="0.8"/>
<text transform="translate(0.00 133.85) scale(1 1.03)" text-anchor="middle" class="tk">0</text>
<line x1="-47.26" y1="118.15" x2="-47.26" y2="121.65" stroke="#000" stroke-width="0.8"/>
<line x1="-121.65" y1="-47.26" x2="-118.15" y2="-47.26" stroke="#000" stroke-width="0.8"/>
<text transform="translate(-47.26 133.85) scale(1 1.03)" text-anchor="middle" class="tk">1</text>
<line x1="-94.52" y1="118.15" x2="-94.52" y2="121.65" stroke="#000" stroke-width="0.8"/>
<line x1="-121.65" y1="-94.52" x2="-118.15" y2="-94.52" stroke="#000" stroke-width="0.8"/>
<text transform="translate(-94.52 133.85) scale(1 1.03)" text-anchor="middle" class="tk">2</text>
<text transform="translate(0 149.75) scale(1 1)" text-anchor="middle" class="tk">Δ<tspan class="it">α</tspan>cos<tspan dx="1.5" class="it">δ</tspan> [<tspan class="it" dx="0.9">″</tspan><tspan dx="0.5">]</tspan></text>
<text transform="translate(-108.85 103.35) scale(1 1)" class="w tt">Dartboard Tuned RML</text>
<text transform="translate(-108.45 -99.45) scale(1 1.05)" class="w"><tspan class="it lam">λ</tspan><tspan class="sub" dy="1.6" dx="0.9">ent</tspan><tspan dy="-1.6" dx="2.3">=</tspan><tspan dx="2.1">2.15e-02</tspan></text>
<text transform="translate(-108.45 -80.75) scale(1 1.05)" class="w"><tspan class="it lam">λ</tspan><tspan class="sub" dy="1.6" dx="0.9">TSV</tspan><tspan dy="-1.6" dx="2.3">=</tspan><tspan dx="2.1">2.15e-03</tspan></text>
<text transform="translate(-108.45 -62.05) scale(1 1.05)" class="w"><tspan class="it lam">λ</tspan><tspan class="sub" dy="1.6" dx="0.9">sparse</tspan><tspan dy="-1.6" dx="2.3">=</tspan><tspan dx="2.1">2.00e-03</tspan></text>
</g>
<g transform="translate(640.35 361.35)">
<g filter="url(#n5)"><rect x="-118.15" y="-118.15" width="236.3" height="236.3" fill="url(#gp5)"/><ellipse cx="0" cy="0" rx="8.3" ry="3.6" fill="url(#gcore)"/></g>
<rect x="-118.15" y="-118.15" width="236.3" height="236.3" fill="none" stroke="#000" stroke-width="0.8"/>
<line x1="94.52" y1="118.15" x2="94.52" y2="121.65" stroke="#000" stroke-width="0.8"/>
<line x1="-121.65" y1="94.52" x2="-118.15" y2="94.52" stroke="#000" stroke-width="0.8"/>
<text transform="translate(94.52 133.85) scale(1 1.03)" text-anchor="middle" class="tk">−2</text>
<line x1="47.26" y1="118.15" x2="47.26" y2="121.65" stroke="#000" stroke-width="0.8"/>
<line x1="-121.65" y1="47.26" x2="-118.15" y2="47.26" stroke="#000" stroke-width="0.8"/>
<text transform="translate(47.26 133.85) scale(1 1.03)" text-anchor="middle" class="tk">−1</text>
<line x1="0.00" y1="118.15" x2="0.00" y2="121.65" stroke="#000" stroke-width="0.8"/>
<line x1="-121.65" y1="0.00" x2="-118.15" y2="0.00" stroke="#000" stroke-width="0.8"/>
<text transform="translate(0.00 133.85) scale(1 1.03)" text-anchor="middle" class="tk">0</text>
<line x1="-47.26" y1="118.15" x2="-47.26" y2="121.65" stroke="#000" stroke-width="0.8"/>
<line x1="-121.65" y1="-47.26" x2="-118.15" y2="-47.26" stroke="#000" stroke-width="0.8"/>
<text transform="translate(-47.26 133.85) scale(1 1.03)" text-anchor="middle" class="tk">1</text>
<line x1="-94.52" y1="118.15" x2="-94.52" y2="121.65" stroke="#000" stroke-width="0.8"/>
<line x1="-121.65" y1="-94.52" x2="-118.15" y2="-94.52" stroke="#000" stroke-width="0.8"/>
<text transform="translate(-94.52 133.85) scale(1 1.03)" text-anchor="middle" class="tk">2</text>
<text transform="translate(0 149.75) scale(1 1)" text-anchor="middle" class="tk">Δ<tspan class="it">α</tspan>cos<tspan dx="1.5" class="it">δ</tspan> [<tspan class="it" dx="0.9">″</tspan><tspan dx="0.5">]</tspan></text>
<text transform="translate(-108.85 103.35) scale(1 1)" class="w tt">Minimum Residuals RML</text>
<text transform="translate(-108.45 -99.45) scale(1 1.05)" class="w"><tspan class="it lam">λ</tspan><tspan class="sub" dy="1.6" dx="0.9">ent</tspan><tspan dy="-1.6" dx="2.3">=</tspan><tspan dx="2.1">1.00e-01</tspan></text>
<text transform="translate(-108.45 -80.75) scale(1 1.05)" class="w"><tspan class="it lam">λ</tspan><tspan class="sub" dy="1.6" dx="0.9">TSV</tspan><tspan dy="-1.6" dx="2.3">=</tspan><tspan dx="2.1">4.64e-02</tspan></text>
<text transform="translate(-108.45 -62.05) scale(1 1.05)" class="w"><tspan class="it lam">λ</tspan><tspan class="sub" dy="1.6" dx="0.9">sparse</tspan><tspan dy="-1.6" dx="2.3">=</tspan><tspan dx="2.1">2.00e-03</tspan></text>
</g>
</svg>
</body></html>
